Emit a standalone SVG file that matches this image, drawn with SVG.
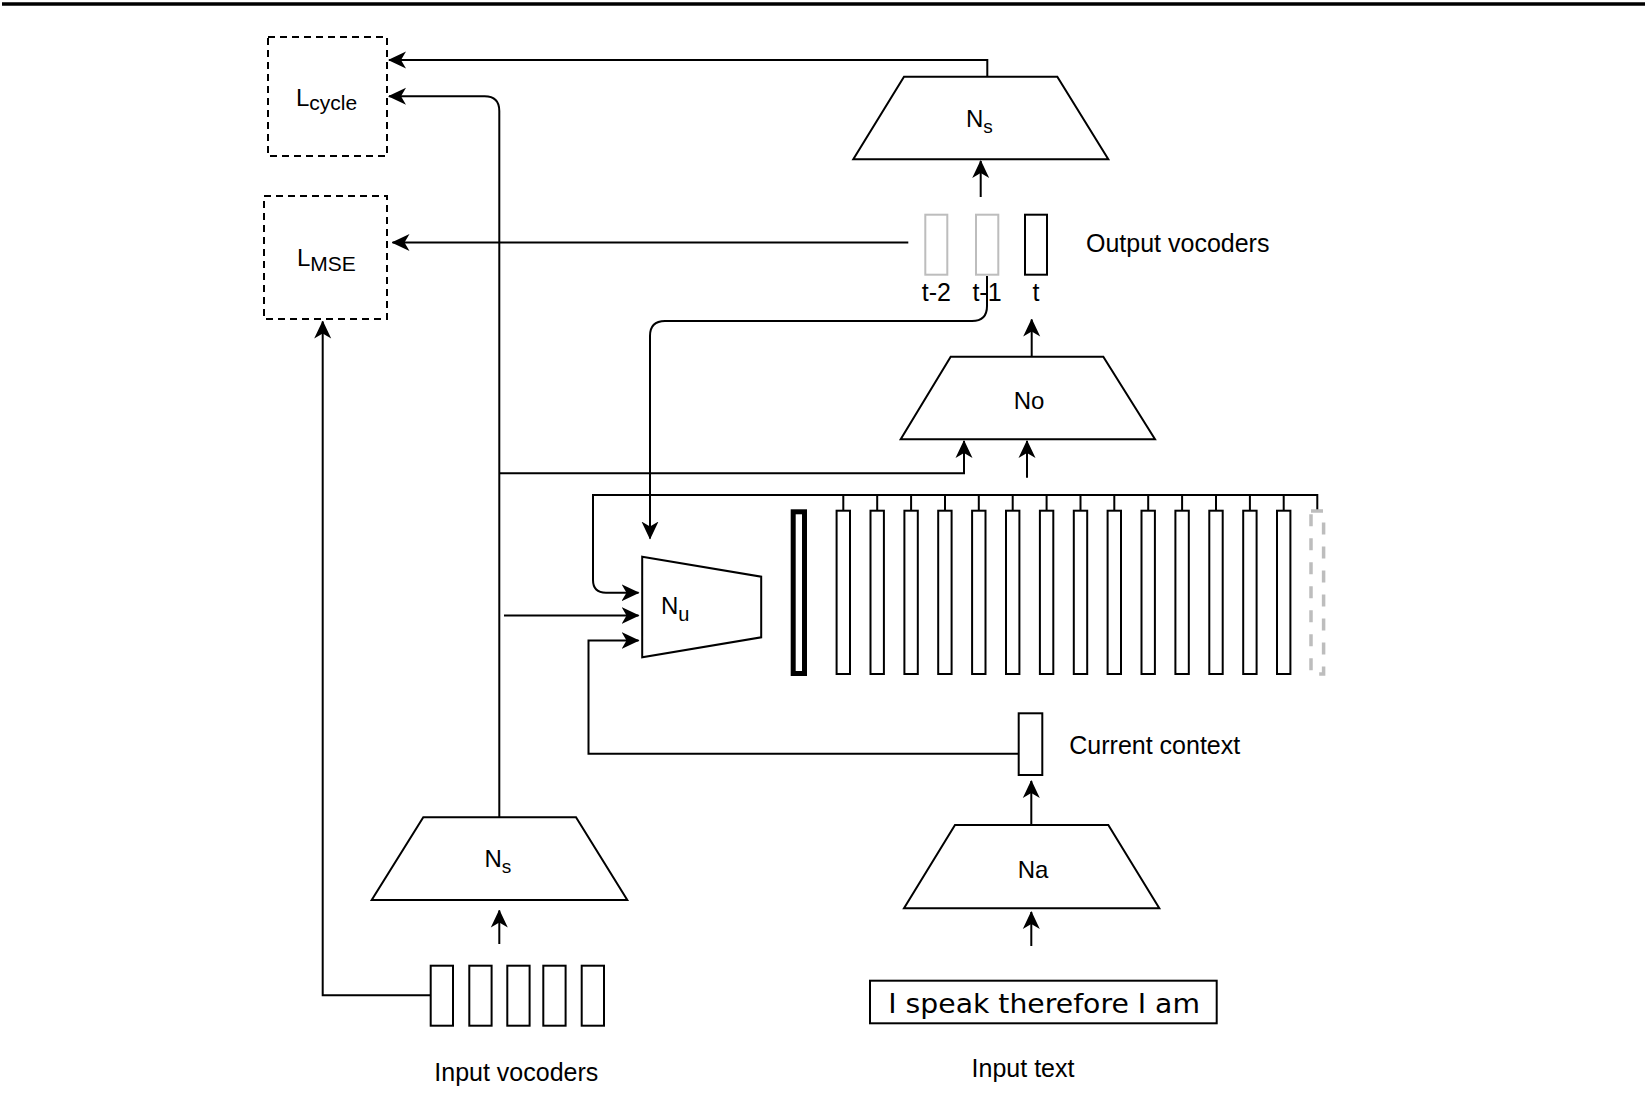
<svg xmlns="http://www.w3.org/2000/svg" width="1647" height="1106" viewBox="0 0 1647 1106">
<style>
  .ln{fill:none;stroke:#000;stroke-width:2}
  .arr{fill:none;stroke:#000;stroke-width:2;marker-end:url(#ah)}
  .box{fill:#fff;stroke:#000;stroke-width:2}
  .gbox{fill:#fff;stroke:#bdbdbd;stroke-width:2}
  .loss{fill:#fff;stroke:#000;stroke-width:2;stroke-dasharray:7 5}
  .trap{fill:#fff;stroke:#000;stroke-width:2;stroke-linejoin:miter}
  .lab{font-family:"Liberation Sans",Arial,Helvetica,sans-serif;font-size:25px;fill:#000}
  .nl{font-family:"Liberation Sans",Arial,Helvetica,sans-serif;font-size:24px;fill:#000}
</style>
<defs>
  <marker id="ah" markerUnits="userSpaceOnUse" markerWidth="18" markerHeight="18" viewBox="0 0 18 18" refX="17" refY="9" orient="auto">
    <path d="M0,0.5 L18,9 L0,17.5 L5,9 Z" fill="#000"/>
  </marker>
</defs>
<rect width="1647" height="1106" fill="#fff"/>
<line x1="2" y1="4" x2="1645" y2="4" stroke="#000" stroke-width="3.5"/>

<g id="connectors">
  <path class="arr" d="M987.3,76.7 L987.3,60 L389,60"/>
  <path class="arr" d="M499.3,817.3 L499.3,111 Q499.3,96.3 484.6,96.3 L389,96.3"/>
  <path class="arr" d="M908.3,242.5 L392.5,242.5"/>
  <path class="arr" d="M430.7,995.3 L322.7,995.3 L322.7,321.5"/>
  <path class="arr" d="M980.7,197 L980.7,161"/>
  <path class="arr" d="M1031.7,356.7 L1031.7,319.5"/>
  <path class="arr" d="M987,276 L987,306 Q987,321 972,321 L665,321 Q650,321 650,336 L650,538.5"/>
  <path class="arr" d="M499.3,473.3 L964,473.3 L964,441"/>
  <path class="arr" d="M1027,477.7 L1027,441"/>
  <path class="arr" d="M1317.3,511 L1317.3,495 L593,495 L593,580 Q593,592.7 606,592.7 L638.5,592.7"/>
  <path class="ln" d="M843.3,495V510.7M877.2,495V510.7M911.1,495V510.7M945,495V510.7M978.8,495V510.7M1012.7,495V510.7M1046.6,495V510.7M1080.5,495V510.7M1114.3,495V510.7M1148.2,495V510.7M1182.1,495V510.7M1216,495V510.7M1249.9,495V510.7M1283.7,495V510.7"/>
  <path class="arr" d="M504,615.5 L638.5,615.5"/>
  <path class="arr" d="M1018.7,753.7 L588.5,753.7 L588.5,640.5 L638.5,640.5"/>
  <path class="arr" d="M1031.3,825 L1031.3,781"/>
  <path class="arr" d="M1031.3,946 L1031.3,912"/>
  <path class="arr" d="M499.3,944 L499.3,910.5"/>
</g>

<g id="L_cycle">
  <rect class="loss" x="268" y="37" width="119" height="119"/>
  <text class="nl" x="296" y="106" font-size="27">L<tspan dy="4" font-size="21">cycle</tspan></text>
</g>
<g id="L_MSE">
  <rect class="loss" x="264" y="196" width="123" height="123"/>
  <text class="nl" x="297" y="266" font-size="27">L<tspan dy="4.7" font-size="21">MSE</tspan></text>
</g>

<g id="Ns_top">
  <polygon class="trap" points="904,76.7 1057.3,76.7 1108.3,159.3 853.3,159.3"/>
  <text class="nl" x="966" y="127.3" font-size="23">N<tspan dy="6" font-size="19">s</tspan></text>
</g>

<g id="output_vocoders">
  <rect class="gbox" x="925.3" y="214.7" width="22" height="60"/>
  <rect class="gbox" x="976" y="214.7" width="22.3" height="60"/>
  <rect class="box" x="1025" y="214.7" width="22" height="60"/>
  <text class="lab" x="936.3" y="300.7" text-anchor="middle">t-2</text>
  <text class="lab" x="987" y="300.7" text-anchor="middle">t-1</text>
  <text class="lab" x="1036" y="300.7" text-anchor="middle">t</text>
  <text class="lab" x="1086" y="251.7">Output vocoders</text>
</g>

<g id="No">
  <polygon class="trap" points="950.7,356.7 1103.3,356.7 1155,439.3 900.7,439.3"/>
  <text class="nl" x="1029" y="409" text-anchor="middle" font-size="26">No</text>
</g>

<g id="memory">
  <rect x="793.2" y="511.8" width="11.3" height="161.7" fill="#fff" stroke="#000" stroke-width="5"/>
  <g class="box">
    <rect x="836.6" y="510.7" width="13.4" height="163.3"/>
    <rect x="870.5" y="510.7" width="13.4" height="163.3"/>
    <rect x="904.4" y="510.7" width="13.4" height="163.3"/>
    <rect x="938.2" y="510.7" width="13.4" height="163.3"/>
    <rect x="972.1" y="510.7" width="13.4" height="163.3"/>
    <rect x="1006" y="510.7" width="13.4" height="163.3"/>
    <rect x="1039.9" y="510.7" width="13.4" height="163.3"/>
    <rect x="1073.8" y="510.7" width="13.4" height="163.3"/>
    <rect x="1107.6" y="510.7" width="13.4" height="163.3"/>
    <rect x="1141.5" y="510.7" width="13.4" height="163.3"/>
    <rect x="1175.4" y="510.7" width="13.4" height="163.3"/>
    <rect x="1209.3" y="510.7" width="13.4" height="163.3"/>
    <rect x="1243.2" y="510.7" width="13.4" height="163.3"/>
    <rect x="1277" y="510.7" width="13.4" height="163.3"/>
  </g>
  <rect x="1311" y="511" width="12.6" height="163" fill="none" stroke="#bdbdbd" stroke-width="3.5" stroke-dasharray="12 12"/>
</g>

<g id="Nu">
  <polygon class="trap" points="642.2,556.7 761.2,576.7 761.2,637.3 642.2,657.3"/>
  <text class="nl" x="661" y="614">N<tspan dy="7" font-size="20">u</tspan></text>
</g>

<g id="current_context">
  <rect class="box" x="1018.7" y="713.3" width="23.6" height="61.7"/>
  <text class="lab" x="1069.3" y="754.3">Current context</text>
</g>

<g id="Na">
  <polygon class="trap" points="955,825 1108.3,825 1159.3,908.3 904,908.3"/>
  <text class="nl" x="1033" y="877.7" text-anchor="middle">Na</text>
</g>

<g id="Ns_bottom">
  <polygon class="trap" points="423.3,817.3 576,817.3 627.3,900 371.7,900"/>
  <text class="nl" x="484.5" y="867.3" font-size="23">N<tspan dy="6" font-size="19">s</tspan></text>
</g>

<g id="input_vocoders">
  <rect class="box" x="430.7" y="965.7" width="22.3" height="60"/>
  <rect class="box" x="469.3" y="965.7" width="22.3" height="60"/>
  <rect class="box" x="507.3" y="965.7" width="22.3" height="60"/>
  <rect class="box" x="543.3" y="965.7" width="22.3" height="60"/>
  <rect class="box" x="581.7" y="965.7" width="22.3" height="60"/>
  <text class="lab" x="434.3" y="1080.7">Input vocoders</text>
</g>

<g id="input_text">
  <rect class="box" x="870" y="980.7" width="346.7" height="42.6"/>
  <text x="888.3" y="1012.7" font-family="'DejaVu Sans',Verdana,sans-serif" font-size="27" textLength="311.7" lengthAdjust="spacingAndGlyphs">I speak therefore I am</text>
  <text class="lab" x="971.6" y="1077">Input text</text>
</g>
</svg>
